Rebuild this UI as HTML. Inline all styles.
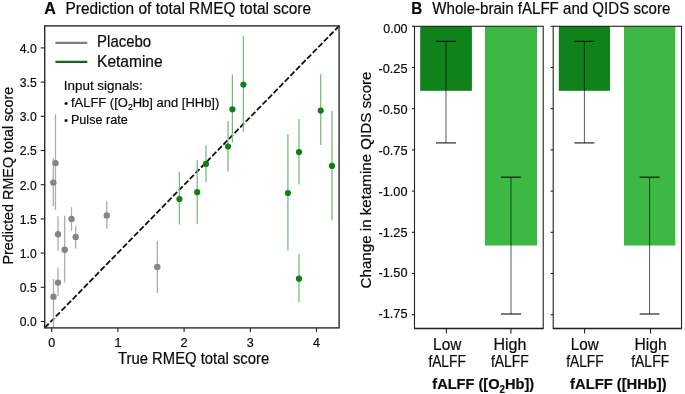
<!DOCTYPE html>
<html lang="en"><head><meta charset="utf-8"><title>Figure</title>
<style>html,body{margin:0;padding:0;background:#fff}svg{display:block}text{font-family:"Liberation Sans",sans-serif;fill:#0a0a0a;stroke:#0a0a0a;stroke-width:0.2px}</style>
</head><body>
<svg width="685" height="394" viewBox="0 0 685 394">
<rect width="685" height="394" fill="#fff"/>
<text x="44.2" y="13.8" font-size="16.4" text-anchor="start" font-weight="bold" textLength="11.6" lengthAdjust="spacingAndGlyphs">A</text>
<text x="65.5" y="13.8" font-size="16.2" text-anchor="start" font-weight="normal" textLength="245.5" lengthAdjust="spacingAndGlyphs">Prediction of total RMEQ total score</text>
<line x1="44.7" y1="327.9" x2="339.1" y2="25.9" stroke="#111" stroke-width="1.8" stroke-dasharray="5.8 2.2"/>
<line x1="53.5" y1="279" x2="53.5" y2="327.5" stroke="#acacac" stroke-width="1.3"/>
<line x1="53.3" y1="158.2" x2="53.3" y2="205.9" stroke="#acacac" stroke-width="1.3"/>
<line x1="55.5" y1="114.3" x2="55.5" y2="210" stroke="#acacac" stroke-width="1.3"/>
<line x1="58" y1="267.6" x2="58" y2="295.9" stroke="#acacac" stroke-width="1.3"/>
<line x1="58" y1="216.6" x2="58" y2="250.4" stroke="#acacac" stroke-width="1.3"/>
<line x1="64.7" y1="215.8" x2="64.7" y2="282.6" stroke="#acacac" stroke-width="1.3"/>
<line x1="71.5" y1="207.1" x2="71.5" y2="230.6" stroke="#acacac" stroke-width="1.3"/>
<line x1="75.7" y1="225.9" x2="75.7" y2="248.5" stroke="#acacac" stroke-width="1.3"/>
<line x1="106.8" y1="201.2" x2="106.8" y2="228.7" stroke="#acacac" stroke-width="1.3"/>
<line x1="157.3" y1="240.7" x2="157.3" y2="293" stroke="#acacac" stroke-width="1.3"/>
<line x1="179.4" y1="171.8" x2="179.4" y2="224.5" stroke="#74ba78" stroke-width="1.25"/>
<line x1="197.2" y1="159.9" x2="197.2" y2="223.8" stroke="#74ba78" stroke-width="1.25"/>
<line x1="206" y1="144.9" x2="206" y2="182" stroke="#74ba78" stroke-width="1.25"/>
<line x1="228" y1="121" x2="228" y2="171.4" stroke="#74ba78" stroke-width="1.25"/>
<line x1="232.4" y1="74.5" x2="232.4" y2="142.7" stroke="#74ba78" stroke-width="1.25"/>
<line x1="243.4" y1="36" x2="243.4" y2="132.1" stroke="#74ba78" stroke-width="1.25"/>
<line x1="287.9" y1="134.3" x2="287.9" y2="250.5" stroke="#74ba78" stroke-width="1.25"/>
<line x1="299" y1="118.9" x2="299" y2="184.6" stroke="#74ba78" stroke-width="1.25"/>
<line x1="299" y1="254.1" x2="299" y2="302.3" stroke="#74ba78" stroke-width="1.25"/>
<line x1="320.7" y1="74.3" x2="320.7" y2="144.9" stroke="#74ba78" stroke-width="1.25"/>
<line x1="332" y1="111" x2="332" y2="220.6" stroke="#74ba78" stroke-width="1.25"/>
<circle cx="53.5" cy="296.8" r="3.2" fill="#858585"/>
<circle cx="53.3" cy="182.6" r="3.2" fill="#858585"/>
<circle cx="55.5" cy="163.1" r="3.2" fill="#858585"/>
<circle cx="58" cy="282.6" r="3.2" fill="#858585"/>
<circle cx="58" cy="234.2" r="3.2" fill="#858585"/>
<circle cx="64.7" cy="249.7" r="3.2" fill="#858585"/>
<circle cx="71.5" cy="218.9" r="3.2" fill="#858585"/>
<circle cx="75.7" cy="237" r="3.2" fill="#858585"/>
<circle cx="106.8" cy="215.4" r="3.2" fill="#858585"/>
<circle cx="157.3" cy="266.9" r="3.2" fill="#858585"/>
<circle cx="179.4" cy="199" r="3.1" fill="#0f7f17"/>
<circle cx="197.2" cy="192.2" r="3.1" fill="#0f7f17"/>
<circle cx="206" cy="163.9" r="3.1" fill="#0f7f17"/>
<circle cx="228" cy="146.5" r="3.1" fill="#0f7f17"/>
<circle cx="232.4" cy="109.3" r="3.1" fill="#0f7f17"/>
<circle cx="243.4" cy="84.6" r="3.1" fill="#0f7f17"/>
<circle cx="287.9" cy="193" r="3.1" fill="#0f7f17"/>
<circle cx="299" cy="152" r="3.1" fill="#0f7f17"/>
<circle cx="299" cy="278.7" r="3.1" fill="#0f7f17"/>
<circle cx="320.7" cy="110.6" r="3.1" fill="#0f7f17"/>
<circle cx="332" cy="165.9" r="3.1" fill="#0f7f17"/>
<rect x="44.7" y="25.9" width="294.40000000000003" height="302.0" fill="none" stroke="#2a2a2a" stroke-width="1.4"/>
<line x1="40.7" y1="321.50" x2="44.7" y2="321.50" stroke="#222" stroke-width="1.1"/>
<text x="19.800000000000004" y="326.3" font-size="13.0" text-anchor="start" font-weight="normal" textLength="16.9" lengthAdjust="spacingAndGlyphs">0.0</text>
<line x1="40.7" y1="287.30" x2="44.7" y2="287.30" stroke="#222" stroke-width="1.1"/>
<text x="19.800000000000004" y="292.1" font-size="13.0" text-anchor="start" font-weight="normal" textLength="16.9" lengthAdjust="spacingAndGlyphs">0.5</text>
<line x1="40.7" y1="253.10" x2="44.7" y2="253.10" stroke="#222" stroke-width="1.1"/>
<text x="19.800000000000004" y="257.9" font-size="13.0" text-anchor="start" font-weight="normal" textLength="16.9" lengthAdjust="spacingAndGlyphs">1.0</text>
<line x1="40.7" y1="218.90" x2="44.7" y2="218.90" stroke="#222" stroke-width="1.1"/>
<text x="19.800000000000004" y="223.7" font-size="13.0" text-anchor="start" font-weight="normal" textLength="16.9" lengthAdjust="spacingAndGlyphs">1.5</text>
<line x1="40.7" y1="184.70" x2="44.7" y2="184.70" stroke="#222" stroke-width="1.1"/>
<text x="19.800000000000004" y="189.5" font-size="13.0" text-anchor="start" font-weight="normal" textLength="16.9" lengthAdjust="spacingAndGlyphs">2.0</text>
<line x1="40.7" y1="150.50" x2="44.7" y2="150.50" stroke="#222" stroke-width="1.1"/>
<text x="19.800000000000004" y="155.3" font-size="13.0" text-anchor="start" font-weight="normal" textLength="16.9" lengthAdjust="spacingAndGlyphs">2.5</text>
<line x1="40.7" y1="116.30" x2="44.7" y2="116.30" stroke="#222" stroke-width="1.1"/>
<text x="19.800000000000004" y="121.1" font-size="13.0" text-anchor="start" font-weight="normal" textLength="16.9" lengthAdjust="spacingAndGlyphs">3.0</text>
<line x1="40.7" y1="82.10" x2="44.7" y2="82.10" stroke="#222" stroke-width="1.1"/>
<text x="19.800000000000004" y="86.9" font-size="13.0" text-anchor="start" font-weight="normal" textLength="16.9" lengthAdjust="spacingAndGlyphs">3.5</text>
<line x1="40.7" y1="47.90" x2="44.7" y2="47.90" stroke="#222" stroke-width="1.1"/>
<text x="19.800000000000004" y="52.7" font-size="13.0" text-anchor="start" font-weight="normal" textLength="16.9" lengthAdjust="spacingAndGlyphs">4.0</text>
<line x1="51.70" y1="327.9" x2="51.70" y2="331.9" stroke="#222" stroke-width="1.1"/>
<text x="48.2" y="347.0" font-size="13.0" text-anchor="start" font-weight="normal" textLength="7.0" lengthAdjust="spacingAndGlyphs">0</text>
<line x1="117.90" y1="327.9" x2="117.90" y2="331.9" stroke="#222" stroke-width="1.1"/>
<text x="114.4" y="347.0" font-size="13.0" text-anchor="start" font-weight="normal" textLength="7.0" lengthAdjust="spacingAndGlyphs">1</text>
<line x1="184.10" y1="327.9" x2="184.10" y2="331.9" stroke="#222" stroke-width="1.1"/>
<text x="180.6" y="347.0" font-size="13.0" text-anchor="start" font-weight="normal" textLength="7.0" lengthAdjust="spacingAndGlyphs">2</text>
<line x1="250.30" y1="327.9" x2="250.30" y2="331.9" stroke="#222" stroke-width="1.1"/>
<text x="246.8" y="347.0" font-size="13.0" text-anchor="start" font-weight="normal" textLength="7.0" lengthAdjust="spacingAndGlyphs">3</text>
<line x1="316.50" y1="327.9" x2="316.50" y2="331.9" stroke="#222" stroke-width="1.1"/>
<text x="313.0" y="347.0" font-size="13.0" text-anchor="start" font-weight="normal" textLength="7.0" lengthAdjust="spacingAndGlyphs">4</text>
<text x="118" y="363.7" font-size="15.6" text-anchor="start" font-weight="normal" textLength="151.2" lengthAdjust="spacingAndGlyphs">True RMEQ total score</text>
<text transform="translate(13.0,264.5) rotate(-90)" font-size="14.5" textLength="177.7" lengthAdjust="spacingAndGlyphs">Predicted RMEQ total score</text>
<line x1="55.4" y1="42.9" x2="87.3" y2="42.9" stroke="#808080" stroke-width="2.4"/>
<line x1="55.4" y1="61.9" x2="87.3" y2="61.9" stroke="#0d6a16" stroke-width="2.4"/>
<text x="97.1" y="46.9" font-size="16.4" text-anchor="start" font-weight="normal" textLength="54.1" lengthAdjust="spacingAndGlyphs">Placebo</text>
<text x="97.1" y="66.8" font-size="16.4" text-anchor="start" font-weight="normal" textLength="65.5" lengthAdjust="spacingAndGlyphs">Ketamine</text>
<text x="63.8" y="89.7" font-size="13.5" text-anchor="start" font-weight="normal" textLength="79" lengthAdjust="spacingAndGlyphs">Input signals:</text>
<text x="64.2" y="107" font-size="10.5" text-anchor="start" font-weight="normal">•</text>
<text x="70.9" y="106.7" font-size="13.5" textLength="148.4" lengthAdjust="spacingAndGlyphs">fALFF ([O<tspan font-size="9" dy="3.2">2</tspan><tspan dy="-3.2">Hb] and [HHb])</tspan></text>
<text x="64.2" y="124.4" font-size="10.5" text-anchor="start" font-weight="normal">•</text>
<text x="70.9" y="124.1" font-size="13.5" text-anchor="start" font-weight="normal" textLength="56.9" lengthAdjust="spacingAndGlyphs">Pulse rate</text>
<text x="411.2" y="13.8" font-size="16.4" text-anchor="start" font-weight="bold" textLength="11" lengthAdjust="spacingAndGlyphs">B</text>
<text x="432.3" y="13.8" font-size="16.2" text-anchor="start" font-weight="normal" textLength="238" lengthAdjust="spacingAndGlyphs">Whole-brain fALFF and QIDS score</text>
<rect x="420.2" y="26.3" width="51.7" height="64.5" fill="#10821a"/>
<rect x="485" y="26.3" width="52.0" height="219.2" fill="#3cb843"/>
<line x1="446.0" y1="41.4" x2="446.0" y2="142.9" stroke="#000" stroke-opacity="0.72" stroke-width="0.9"/>
<line x1="436.0" y1="41.4" x2="456.0" y2="41.4" stroke="#000" stroke-opacity="0.85" stroke-width="1.2"/>
<line x1="436.0" y1="142.9" x2="456.0" y2="142.9" stroke="#000" stroke-opacity="0.85" stroke-width="1.2"/>
<line x1="511.0" y1="177.2" x2="511.0" y2="314.0" stroke="#000" stroke-opacity="0.72" stroke-width="0.9"/>
<line x1="501.0" y1="177.2" x2="521.0" y2="177.2" stroke="#000" stroke-opacity="0.85" stroke-width="1.2"/>
<line x1="501.0" y1="314.0" x2="521.0" y2="314.0" stroke="#000" stroke-opacity="0.85" stroke-width="1.2"/>
<rect x="414.5" y="26.3" width="128.7" height="302.2" fill="none" stroke="#222" stroke-width="1.1"/>
<line x1="414.5" y1="328.5" x2="543.2" y2="328.5" stroke="#222" stroke-width="1.5"/>
<line x1="411.9" y1="26.30" x2="414.5" y2="26.30" stroke="#222" stroke-width="1.1"/>
<line x1="411.9" y1="67.50" x2="414.5" y2="67.50" stroke="#222" stroke-width="1.1"/>
<line x1="411.9" y1="108.70" x2="414.5" y2="108.70" stroke="#222" stroke-width="1.1"/>
<line x1="411.9" y1="149.90" x2="414.5" y2="149.90" stroke="#222" stroke-width="1.1"/>
<line x1="411.9" y1="191.10" x2="414.5" y2="191.10" stroke="#222" stroke-width="1.1"/>
<line x1="411.9" y1="232.30" x2="414.5" y2="232.30" stroke="#222" stroke-width="1.1"/>
<line x1="411.9" y1="273.50" x2="414.5" y2="273.50" stroke="#222" stroke-width="1.1"/>
<line x1="411.9" y1="314.70" x2="414.5" y2="314.70" stroke="#222" stroke-width="1.1"/>
<line x1="446.4" y1="328.5" x2="446.4" y2="333.5" stroke="#222" stroke-width="1.1"/>
<line x1="510.9" y1="328.5" x2="510.9" y2="333.5" stroke="#222" stroke-width="1.1"/>
<rect x="558.8" y="26.3" width="51.2" height="64.5" fill="#10821a"/>
<rect x="624" y="26.3" width="51.3" height="219.2" fill="#3cb843"/>
<line x1="584.4" y1="41.4" x2="584.4" y2="142.9" stroke="#000" stroke-opacity="0.72" stroke-width="0.9"/>
<line x1="574.4" y1="41.4" x2="594.4" y2="41.4" stroke="#000" stroke-opacity="0.85" stroke-width="1.2"/>
<line x1="574.4" y1="142.9" x2="594.4" y2="142.9" stroke="#000" stroke-opacity="0.85" stroke-width="1.2"/>
<line x1="649.6" y1="177.2" x2="649.6" y2="314.0" stroke="#000" stroke-opacity="0.72" stroke-width="0.9"/>
<line x1="639.6" y1="177.2" x2="659.6" y2="177.2" stroke="#000" stroke-opacity="0.85" stroke-width="1.2"/>
<line x1="639.6" y1="314.0" x2="659.6" y2="314.0" stroke="#000" stroke-opacity="0.85" stroke-width="1.2"/>
<rect x="553.2" y="26.3" width="128.3" height="302.2" fill="none" stroke="#222" stroke-width="1.1"/>
<line x1="553.2" y1="328.5" x2="681.5" y2="328.5" stroke="#222" stroke-width="1.5"/>
<line x1="550.6" y1="26.30" x2="553.2" y2="26.30" stroke="#222" stroke-width="1.1"/>
<line x1="550.6" y1="67.50" x2="553.2" y2="67.50" stroke="#222" stroke-width="1.1"/>
<line x1="550.6" y1="108.70" x2="553.2" y2="108.70" stroke="#222" stroke-width="1.1"/>
<line x1="550.6" y1="149.90" x2="553.2" y2="149.90" stroke="#222" stroke-width="1.1"/>
<line x1="550.6" y1="191.10" x2="553.2" y2="191.10" stroke="#222" stroke-width="1.1"/>
<line x1="550.6" y1="232.30" x2="553.2" y2="232.30" stroke="#222" stroke-width="1.1"/>
<line x1="550.6" y1="273.50" x2="553.2" y2="273.50" stroke="#222" stroke-width="1.1"/>
<line x1="550.6" y1="314.70" x2="553.2" y2="314.70" stroke="#222" stroke-width="1.1"/>
<line x1="584.6" y1="328.5" x2="584.6" y2="333.5" stroke="#222" stroke-width="1.1"/>
<line x1="650.5" y1="328.5" x2="650.5" y2="333.5" stroke="#222" stroke-width="1.1"/>
<text x="383.3" y="32.5" font-size="13.0" text-anchor="start" font-weight="normal" textLength="24.2" lengthAdjust="spacingAndGlyphs">0.00</text>
<text x="378.5" y="72.8" font-size="13.0" text-anchor="start" font-weight="normal" textLength="29.0" lengthAdjust="spacingAndGlyphs">-0.25</text>
<text x="378.5" y="113.72" font-size="13.0" text-anchor="start" font-weight="normal" textLength="29.0" lengthAdjust="spacingAndGlyphs">-0.50</text>
<text x="378.5" y="154.65" font-size="13.0" text-anchor="start" font-weight="normal" textLength="29.0" lengthAdjust="spacingAndGlyphs">-0.75</text>
<text x="378.5" y="195.57" font-size="13.0" text-anchor="start" font-weight="normal" textLength="29.0" lengthAdjust="spacingAndGlyphs">-1.00</text>
<text x="378.5" y="236.5" font-size="13.0" text-anchor="start" font-weight="normal" textLength="29.0" lengthAdjust="spacingAndGlyphs">-1.25</text>
<text x="378.5" y="277.43" font-size="13.0" text-anchor="start" font-weight="normal" textLength="29.0" lengthAdjust="spacingAndGlyphs">-1.50</text>
<text x="378.5" y="318.35" font-size="13.0" text-anchor="start" font-weight="normal" textLength="29.0" lengthAdjust="spacingAndGlyphs">-1.75</text>
<text transform="translate(371.4,288.4) rotate(-90)" font-size="14.5" textLength="216.9" lengthAdjust="spacingAndGlyphs">Change in ketamine QIDS score</text>
<text x="433.1" y="349.5" font-size="15.6" text-anchor="start" font-weight="normal" textLength="28.2" lengthAdjust="spacingAndGlyphs">Low</text>
<text x="428.4" y="367.4" font-size="15.6" text-anchor="start" font-weight="normal" textLength="37.4" lengthAdjust="spacingAndGlyphs">fALFF</text>
<text x="493.4" y="349.5" font-size="15.6" text-anchor="start" font-weight="normal" textLength="33.0" lengthAdjust="spacingAndGlyphs">High</text>
<text x="490.9" y="367.4" font-size="15.6" text-anchor="start" font-weight="normal" textLength="38.0" lengthAdjust="spacingAndGlyphs">fALFF</text>
<text x="570.7" y="349.5" font-size="15.6" text-anchor="start" font-weight="normal" textLength="28.0" lengthAdjust="spacingAndGlyphs">Low</text>
<text x="566.2" y="367.4" font-size="15.6" text-anchor="start" font-weight="normal" textLength="37.4" lengthAdjust="spacingAndGlyphs">fALFF</text>
<text x="634.4" y="349.5" font-size="15.6" text-anchor="start" font-weight="normal" textLength="32.3" lengthAdjust="spacingAndGlyphs">High</text>
<text x="631.2" y="367.4" font-size="15.6" text-anchor="start" font-weight="normal" textLength="38.0" lengthAdjust="spacingAndGlyphs">fALFF</text>
<text x="432.3" y="389.1" font-size="14.9" font-weight="bold" textLength="101.9" lengthAdjust="spacingAndGlyphs">fALFF ([O<tspan font-size="10" dy="3.8">2</tspan><tspan dy="-3.8">Hb])</tspan></text>
<text x="570.1" y="389.1" font-size="14.9" text-anchor="start" font-weight="bold" textLength="96.6" lengthAdjust="spacingAndGlyphs">fALFF ([HHb])</text>
</svg></body></html>
